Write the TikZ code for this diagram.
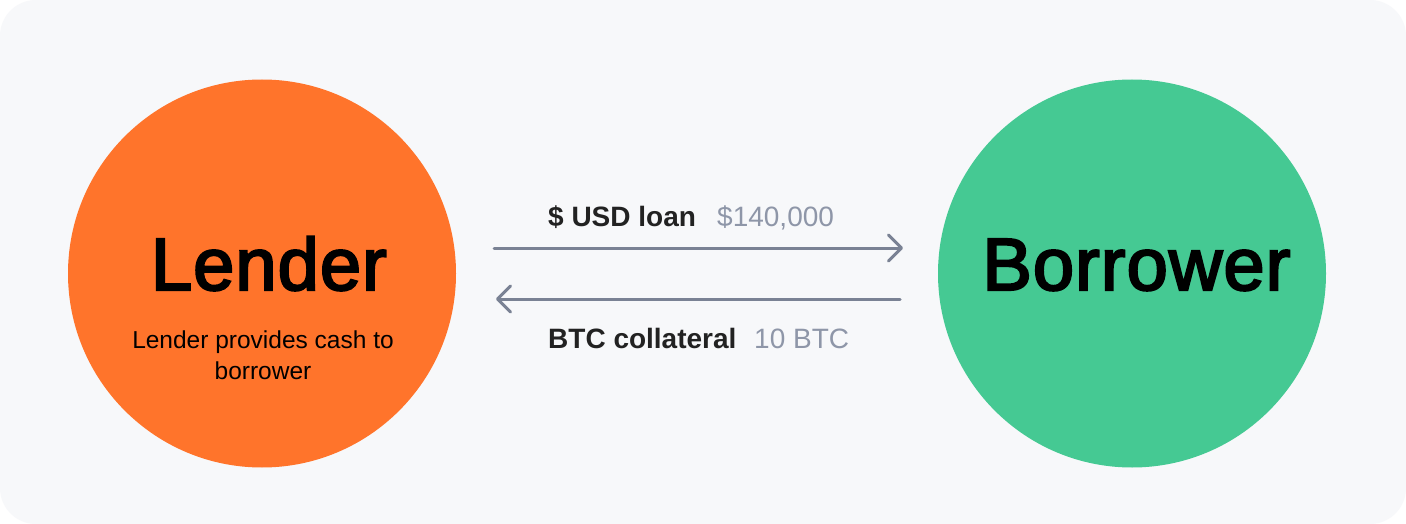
\documentclass[tikz,border=0pt]{standalone}
\usepackage{fontspec}
\setmainfont{Liberation Sans}
\newfontfamily\medfont{Liberation Sans}[FakeBold=3,LetterSpace=1.5]
\usetikzlibrary{arrows.meta}
\definecolor{bgc}{HTML}{F7F8FA}
\definecolor{orangec}{HTML}{FF742B}
\definecolor{greenc}{HTML}{45C993}
\definecolor{arrowc}{HTML}{7A8294}
\definecolor{darkt}{HTML}{222222}
\definecolor{lightt}{HTML}{8E96A8}
\tikzset{
  party/.style={circle, minimum size=388pt, inner sep=0pt, draw=none},
  bigname/.style={anchor=base, inner sep=0pt, text=black, font=\medfont\fontsize{74}{80}\selectfont},
  subtext/.style={anchor=base, inner sep=0pt, text=black, font=\fontsize{24.5}{28}\selectfont},
  flowlbl/.style={anchor=base west, inner sep=0pt, text=darkt, font=\bfseries\fontsize{28}{32}\selectfont},
  flowval/.style={anchor=base west, inner sep=0pt, text=lightt, font=\fontsize{28}{32}\selectfont},
  flow/.style={draw=arrowc, line width=3pt, line cap=round,
    -{Straight Barb[length=13pt, width=26pt, line width=3pt, round]}},
}
\begin{document}
\begin{tikzpicture}[x=1pt,y=-1pt]
\useasboundingbox (0,0) rectangle (1406,524);
\fill[white] (0,0) rectangle (1406,524);
\fill[bgc, rounded corners=36pt] (0,0) rectangle (1406,524);

\node[party, fill=orangec] (lender) at (262,273.5) {};
\node[party, fill=greenc] (borrower) at (1132,273.5) {};

\node[bigname] (lname) at (269,290) {Lender};
\node[bigname] (bname) at (1136.5,290) {Borrower};
\node[subtext] (sub1) at (263,348) {Lender provides cash to};
\node[subtext] (sub2) at (263,379) {borrower};

\coordinate (a1s) at (494,248);
\coordinate (a1e) at (903,248);
\coordinate (a2s) at (900,299);
\coordinate (a2e) at (496,299);
\draw[flow] (a1s) -- (a1e);
\draw[flow] (a2s) -- (a2e);

\node[flowlbl] (l1) at (548,226) {\$ USD loan};
\node[flowval] (v1) at (717,226) {\$140,000};
\node[flowlbl] (l2) at (548,348) {BTC collateral};
\node[flowval] (v2) at (754,348) {10 BTC};
\end{tikzpicture}
\end{document}
